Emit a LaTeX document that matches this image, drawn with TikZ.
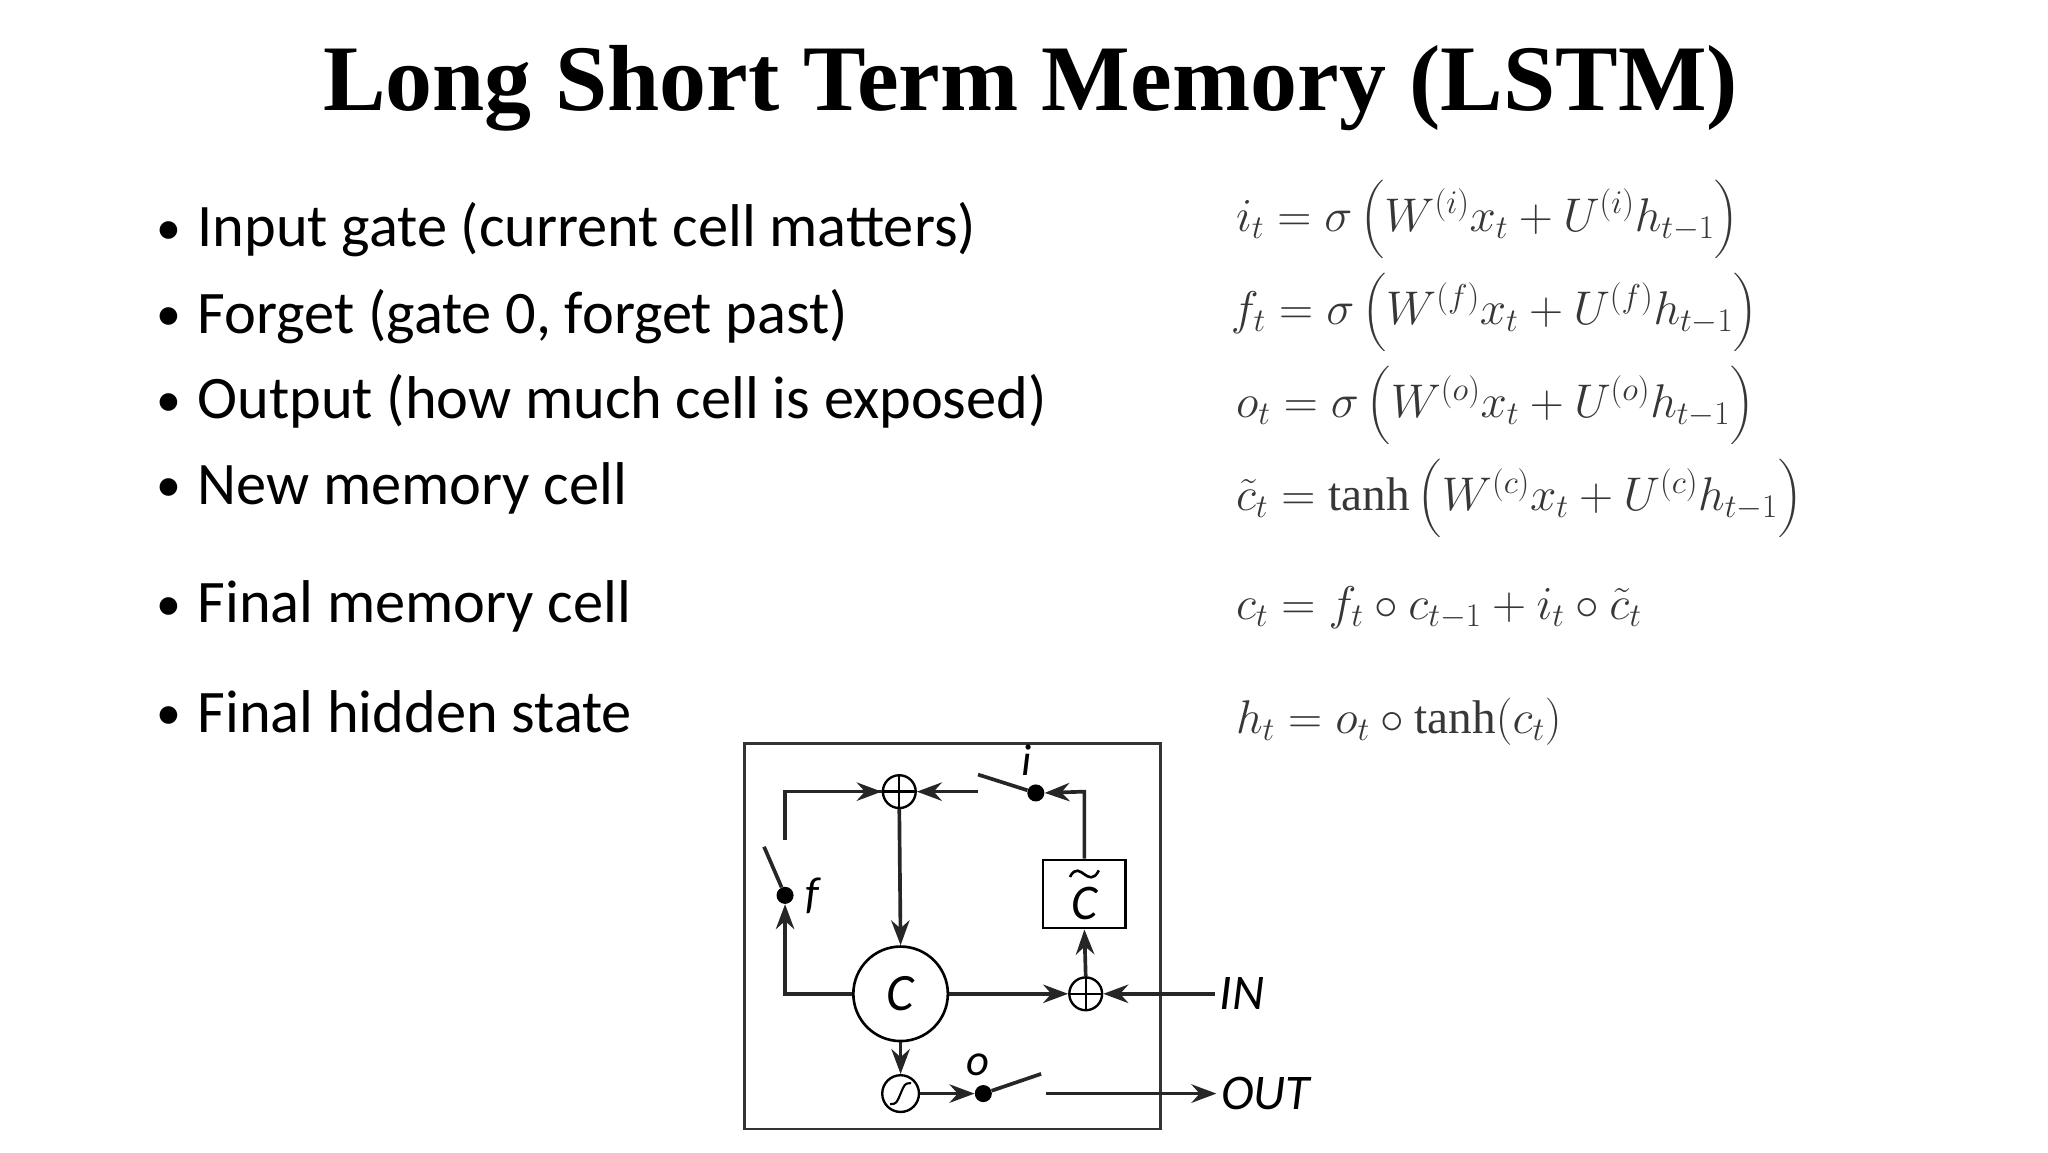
\documentclass[tikz,border=0pt]{standalone}
\usepackage{fix-cm}
\usepackage{amsmath}
\usepackage{fontspec}
\setmainfont{Liberation Serif}
\newfontfamily\bodyfont{Carlito}
\usetikzlibrary{arrows.meta}
\definecolor{eqgray}{RGB}{55,55,55}
\begin{document}
\begin{tikzpicture}[x=1pt,y=-1pt,
  line/.style={line width=2.8pt,black!85},
  arr/.style={line, -{Stealth[length=19pt,width=14pt]}},
  bul/.style={anchor=west,font=\bodyfont\fontsize{46}{48}\selectfont},
  eq/.style={anchor=west,text=eqgray,font=\fontsize{36}{40}\selectfont},
  plus/.style={circle,draw,line width=1.8pt,minimum size=25pt,inner sep=0pt},
  dotn/.style={circle,fill=black,minimum size=13pt,inner sep=0pt},
  lab/.style={font=\bodyfont\itshape\fontsize{34}{34}\selectfont}]
\useasboundingbox (0,0) rectangle (1560,878);
\node (title) at (785,67) {\fontsize{71.5}{75}\selectfont\bfseries Long Short Term Memory (LSTM)};
\foreach \n/\y/\t in {b1/175/Input gate (current cell matters), b2/241/{Forget (gate 0, forget past)}, b3/306/Output (how much cell is exposed), b4/372/New memory cell, b5/462/Final memory cell, b6/542/Final hidden state}
  \node[bul] (\n) at (116,\y) {\raisebox{2pt}{\fontsize{38}{38}\selectfont\textbullet}\hspace{12pt}\t};
\node[eq] (e1) at (938,167) {$i_t=\sigma\,\Bigl(W^{(i)}x_t+U^{(i)}h_{t-1}\Bigr)$};
\node[eq] (e2) at (934,238) {$f_t=\sigma\,\Bigl(W^{(f)}x_t+U^{(f)}h_{t-1}\Bigr)$};
\node[eq] (e3) at (938,309) {$o_t=\sigma\,\Bigl(W^{(o)}x_t+U^{(o)}h_{t-1}\Bigr)$};
\node[eq] (e4) at (938,380) {$\tilde{c}_t=\tanh\,\Bigl(W^{(c)}x_t+U^{(c)}h_{t-1}\Bigr)$};
\node[eq] (e5) at (938,463) {$c_t=f_t\circ c_{t-1}+i_t\circ \tilde{c}_t$};
\node[eq] (e6) at (938,550) {$h_t=o_t\circ \tanh(c_t)$};
% diagram
\draw[line width=2.2pt,black!80] (567,566) rectangle (884,860);
\node[plus] (p1) at (685,603) {};
\draw[line width=1.8pt] (p1.north)--(p1.south) (p1.west)--(p1.east);
\node[plus] (p2) at (827,757) {};
\draw[line width=1.8pt] (p2.north)--(p2.south) (p2.west)--(p2.east);
\node[circle,draw,line width=2pt,minimum size=72pt,inner sep=0pt,font=\bodyfont\itshape\fontsize{40}{40}\selectfont] (C) at (686,757) {C};
\node[draw,line width=2pt,minimum width=63pt,minimum height=52pt,inner sep=0pt] (Ct) at (826,681) {};
\node[font=\bodyfont\itshape\fontsize{38}{38}\selectfont,inner sep=0pt] (CtC) at (826,688) {C};
\draw[line width=2pt] (815,668) .. controls (819,660) and (823,664) .. (826,666) .. controls (829,668) and (833,671) .. (837,663);
\node[circle,draw,line width=1.8pt,minimum size=28pt,inner sep=0pt] (sg) at (686,833) {};
\draw[line width=1.6pt] (sg.center)++(-8,8) .. controls +(5,0) and +(-3,7) .. (sg.center) .. controls +(3,-7) and +(-5,0) .. ++(8,-8);
% forget path
\coordinate (fa) at (598,640);
\node[dotn] (fd) at (598,682) {};
\coordinate (ft) at (582,645);
\node[lab] (fl) at (619,682) {f};
\draw[line] (fa)--(598,603)--(p1.west);
\draw[arr] (598,603)--(p1.west);
\draw[line] (ft)--(fd);
\draw[arr] (C.west)--(598,757)--(fd.south);
\draw[arr] (p1.south)--(C.north);
% input path
\node[dotn] (id) at (789,604) {};
\coordinate (ia) at (745,590);
\coordinate (ib) at (745,603);
\node[lab] (il) at (782,579) {i};
\draw[line] (ia)--(id);
\draw[arr] (ib)--(p1.east);
\draw[arr] (Ct.north)--(826,603)--(id.east);
\draw[arr] (C.east)--(p2.west);
\node[lab,font=\bodyfont\itshape\fontsize{38}{38}\selectfont] (IN) at (946,757) {IN};
\draw[arr] (IN.west)--(p2.east);
\draw[arr] (p2.north)--(Ct.south);
% output path
\draw[arr] (C.south)--(sg.north);
\node[dotn] (od) at (749,833) {};
\node[lab] (ol) at (745,811) {o};
\coordinate (oa) at (793,818);
\coordinate (ob) at (797,833);
\node[lab,font=\bodyfont\itshape\fontsize{38}{38}\selectfont] (OUT) at (964,833) {OUT};
\draw[arr] (sg.east)--(od.west);
\draw[line] (od)--(oa);
\draw[arr] (ob)--(OUT.west);
\end{tikzpicture}
\end{document}
